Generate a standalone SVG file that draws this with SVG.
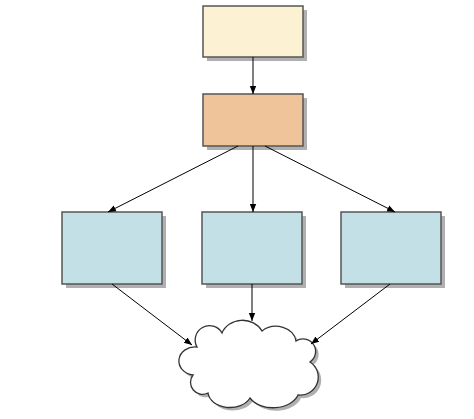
<svg xmlns="http://www.w3.org/2000/svg" width="474" height="419" viewBox="0 0 474 419">
<defs>
<style>
.b{stroke:#555;stroke-width:1.5}
.s{fill:#b0b0b0}
.c{stroke:#000;stroke-width:1;fill:none;marker-end:url(#a)}
</style>
<marker id="a" viewBox="0 0 10 10" refX="10" refY="5" markerWidth="8" markerHeight="8" orient="auto" markerUnits="userSpaceOnUse"><path d="M0,1L10,5L0,9z" fill="#000"/></marker>
<path id="cl" d="M197,347 A14,14 0 0 1 222,333 A22,20 0 0 1 262,331 A20,16 0 0 1 296,341 A12,12 0 0 1 310,362 A18,18 0 0 1 298,395 A26,18 0 0 1 250,398 A22,16 0 0 1 208,393 A12,12 0 0 1 193,375 A16,14 0 0 1 197,347 Z"/>
</defs>
<rect width="474" height="419" fill="#fff"/>
<g id="n1"><rect class="s" x="207" y="10" width="100" height="51"/><rect class="b" x="203" y="6" width="100" height="51" fill="#fdf1d3"/></g>
<g id="n2"><rect class="s" x="207" y="98" width="100" height="52"/><rect class="b" x="203" y="94" width="100" height="52" fill="#efc49b"/></g>
<g id="n3"><rect class="s" x="66" y="216" width="100" height="72"/><rect class="b" x="62" y="212" width="100" height="72" fill="#c4e0e7"/></g>
<g id="n4"><rect class="s" x="206" y="216" width="100" height="72"/><rect class="b" x="202" y="212" width="100" height="72" fill="#c4e0e7"/></g>
<g id="n5"><rect class="s" x="345" y="216" width="100" height="72"/><rect class="b" x="341" y="212" width="100" height="72" fill="#c4e0e7"/></g>
<g id="n6"><use href="#cl" transform="translate(3,3)" fill="#b0b0b0"/><use href="#cl" fill="#fff" stroke="#333" stroke-width="1.3"/></g>
<g id="edges">
<line class="c" x1="253" y1="57" x2="253" y2="94"/>
<line class="c" x1="238" y1="146" x2="108" y2="212"/>
<line class="c" x1="253" y1="146" x2="253" y2="212"/>
<line class="c" x1="265" y1="146" x2="395" y2="212"/>
<line class="c" x1="112" y1="284" x2="192" y2="345"/>
<line class="c" x1="252" y1="284" x2="252" y2="321"/>
<line class="c" x1="390" y1="284" x2="311" y2="344"/>
</g>
</svg>
